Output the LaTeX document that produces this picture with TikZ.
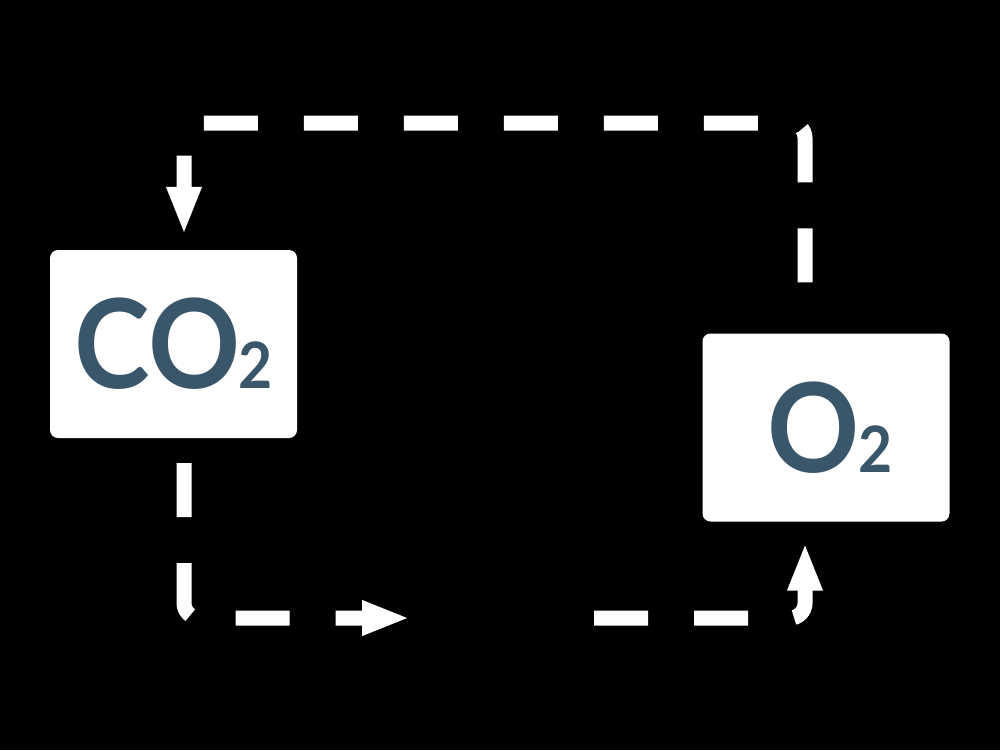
\documentclass[tikz,border=0pt]{standalone}
\usepackage{fontspec}
\setmainfont{Lato}
\usetikzlibrary{arrows.meta}
\definecolor{txt}{RGB}{58,86,107}
\begin{document}
\begin{tikzpicture}[x=1pt,y=-1pt,
  box/.style={fill=white, rounded corners=8pt, minimum width=247pt, minimum height=188pt, inner sep=0pt, text=txt},
  big/.style={font=\bfseries\fontsize{124}{124}\selectfont},
  small/.style={},
  flow/.style={draw=white, line width=15pt, dash pattern=on 54pt off 46pt, rounded corners=15pt, -{Triangle[length=48pt,width=32pt]}}]
\fill[black] (0,0) rectangle (1000,750);
\useasboundingbox (0,0) rectangle (1000,750);
\node[box, big] (co2) at (173.5,344) {\scalebox{0.92}[1]{CO\kern-2pt{\fontsize{64}{64}\selectfont 2}}};
\node[box, big] (o2) at (826,427.5) {\kern8pt\raisebox{-5pt}{\scalebox{0.92}[1]{O\kern-2pt{\fontsize{64}{64}\selectfont 2}}}};
\coordinate (tr) at (805,123);
\coordinate (tl) at (184,123);
\coordinate (bl) at (184,618);
\coordinate (br) at (805,618);
\coordinate (m1) at (410,618);
\coordinate (m2) at (594,618);
\draw[flow, dash phase=75pt] (co2.south -| bl) -- (bl) -- (m1);
\draw[flow, dash phase=0pt, shorten >=21pt] (m2) -- (br) -- (o2.south -| br);
\draw[flow, dash phase=54pt, shorten <=5pt, shorten >=15pt] (o2.north -| tr) -- (tr) -- (tl) -- (co2.north -| tl);
\end{tikzpicture}
\end{document}
